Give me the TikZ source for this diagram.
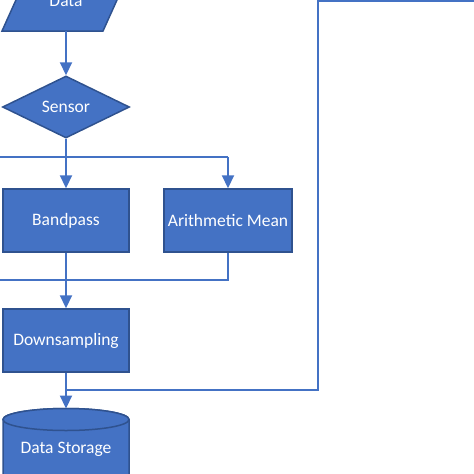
\documentclass[tikz,border=0pt]{standalone}
\usepackage{fontspec}
\setmainfont{Carlito}
\usetikzlibrary{arrows.meta,shapes.geometric}
\definecolor{boxfill}{HTML}{4472C4}
\definecolor{boxline}{HTML}{2F528F}
\definecolor{wire}{HTML}{4472C4}
\begin{document}
\begin{tikzpicture}[x=1pt,y=-1pt,
  lbl/.style={text=white,font=\fontsize{17.5}{20}\selectfont},
  procbox/.style={draw=boxline,line width=1.5pt,fill=boxfill,lbl,minimum width=126pt,minimum height=63pt,inner sep=0pt},
  decbox/.style={diamond,draw=boxline,line width=1.5pt,fill=boxfill,lbl,minimum width=127pt,minimum height=62pt,inner sep=0pt},
  shapefill/.style={draw=boxline,line width=1.5pt,fill=boxfill},
  conn/.style={draw=wire,line width=2.2pt},
  arr/.style={conn,-{Triangle[length=13pt,width=12pt]}}]
\useasboundingbox (0,0) rectangle (474,474);
\clip (0,0) rectangle (474,474);
% Data parallelogram
\path[shapefill] (2,31) -- (103,31) -- (130.5,-30) -- (29.5,-30) -- cycle;
\node[lbl,minimum width=101pt,minimum height=61pt,inner sep=0pt] (data) at (66,0.5) {Data};
% Sensor
\node[decbox] (sensor) at (66,107) {Sensor};
% boxes
\node[procbox] (band) at (66,220.5) {Bandpass};
\node[procbox,minimum width=128pt] (mean) at (228,220.5) {Arithmetic Mean};
\node[procbox] (down) at (66,340.5) {Downsampling};
% Data storage cylinder
\path[shapefill] (3,419.5) arc[start angle=180,end angle=360,x radius=63,y radius=11] -- (129,486) arc[start angle=0,end angle=180,x radius=63,y radius=11] -- cycle;
\path[shapefill] (66,419.5) ellipse[x radius=63,y radius=11];
\node[lbl,minimum width=126pt,minimum height=40pt,inner sep=0pt] (store) at (66,449) {Data Storage};
\coordinate (storetop) at (66,408.5);
% junction coordinates
\coordinate (j1) at (66,157);
\coordinate (l1) at (0,157);
\coordinate (r1) at (228,157);
\coordinate (j2) at (228,280);
\coordinate (l2) at (0,280);
\coordinate (j3) at (66,390);
\coordinate (c3) at (318,390);
\coordinate (c4) at (318,1);
\coordinate (c5) at (474,1);
% connectors
\draw[arr] (data.south) -- (sensor.north);
\draw[conn] (sensor.south) -- (j1);
\draw[conn] (l1) -- (r1);
\draw[arr] (r1) -- (mean.north);
\draw[arr] (j1) -- (band.north);
\draw[arr] (band.south) -- (down.north);
\draw[conn] (mean.south) -- (j2) -- (l2);
\draw[arr] (down.south) -- (storetop);
\draw[conn] (c5) -- (c4) -- (c3) -- (j3);
\end{tikzpicture}
\end{document}
